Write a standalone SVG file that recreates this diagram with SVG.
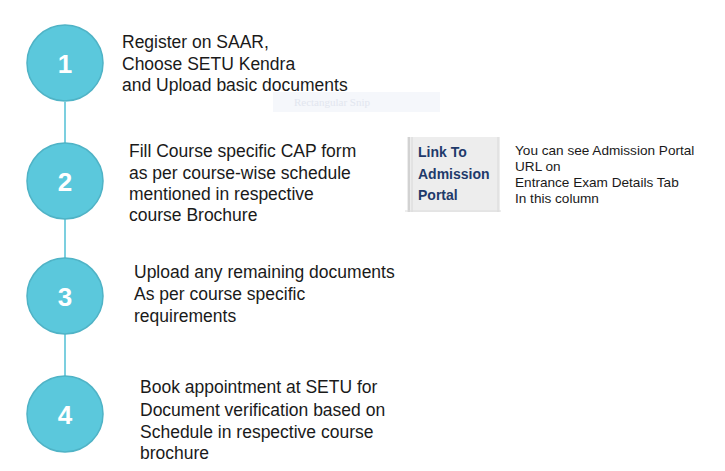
<svg xmlns="http://www.w3.org/2000/svg" width="725" height="471" viewBox="0 0 725 471">
<style>
.step{fill:#5bc8dc;stroke:#4fb3c6;stroke-width:1.5}
.num{font-family:"Liberation Sans",Arial,sans-serif;font-size:26px;font-weight:bold;fill:#fff;text-anchor:middle}
.txt{font-family:"Liberation Sans",Arial,sans-serif;font-size:17.5px;fill:#1a1a1a}
.lnk{font-family:"Liberation Sans",Arial,sans-serif;font-size:14px;font-weight:bold;fill:#1f3a6b}
.note{font-family:"Liberation Sans",Arial,sans-serif;font-size:13.6px;fill:#1a1a1a}
.conn{stroke:#7ccfdf;stroke-width:2;fill:none}
</style>
<rect width="725" height="471" fill="#fff"/>
<g id="connectors">
<line class="conn" x1="65" y1="102" x2="65" y2="143"/>
<line class="conn" x1="65" y1="219" x2="65" y2="258"/>
<line class="conn" x1="65" y1="334" x2="65" y2="376"/>
</g>
<g id="snip">
<rect x="273" y="92" width="167" height="20" fill="#f5f7fb"/>
<text x="332" y="106" font-family="Liberation Serif,serif" font-size="11" fill="#e2e6ef" text-anchor="middle">Rectangular Snip</text>
</g>
<g id="step1">
<circle class="step" cx="65" cy="63" r="38"/>
<text class="num" x="65" y="73">1</text>
<text class="txt" x="122" y="48">Register on SAAR,</text>
<text class="txt" x="122" y="70">Choose SETU Kendra</text>
<text class="txt" x="122" y="91">and Upload basic documents</text>
</g>
<g id="step2">
<circle class="step" cx="65" cy="181" r="38"/>
<text class="num" x="65" y="191">2</text>
<text class="txt" x="129" y="157">Fill Course specific CAP form</text>
<text class="txt" x="129" y="179">as per course-wise schedule</text>
<text class="txt" x="129" y="200">mentioned in respective</text>
<text class="txt" x="129" y="221">course Brochure</text>
</g>
<g id="step3">
<circle class="step" cx="65" cy="296" r="38"/>
<text class="num" x="65" y="306">3</text>
<text class="txt" x="134" y="278">Upload any remaining documents</text>
<text class="txt" x="134" y="300">As per course specific</text>
<text class="txt" x="134" y="322">requirements</text>
</g>
<g id="step4">
<circle class="step" cx="65" cy="414" r="38"/>
<text class="num" x="65" y="424">4</text>
<text class="txt" x="140" y="393">Book appointment at SETU for</text>
<text class="txt" x="140" y="416">Document verification based on</text>
<text class="txt" x="140" y="438">Schedule in respective course</text>
<text class="txt" x="140" y="459">brochure</text>
</g>
<g id="link">
<rect x="407" y="137" width="93" height="75" fill="#ededed"/>
<line x1="409" y1="137" x2="409" y2="212" stroke="#c8c8c8" stroke-width="1.5"/>
<line x1="412" y1="137" x2="412" y2="212" stroke="#d8d8d8" stroke-width="1"/>
<line x1="498" y1="137" x2="498" y2="212" stroke="#d8d8d8" stroke-width="1"/>
<line x1="405" y1="211" x2="501" y2="211" stroke="#dcdcdc" stroke-width="1"/>
<text class="lnk" x="418" y="157">Link To</text>
<text class="lnk" x="418" y="179">Admission</text>
<text class="lnk" x="418" y="200">Portal</text>
</g>
<g id="note">
<text class="note" x="515" y="155">You can see Admission Portal</text>
<text class="note" x="515" y="171">URL on</text>
<text class="note" x="515" y="187">Entrance Exam  Details Tab</text>
<text class="note" x="515" y="203">In  this column</text>
</g>
</svg>
